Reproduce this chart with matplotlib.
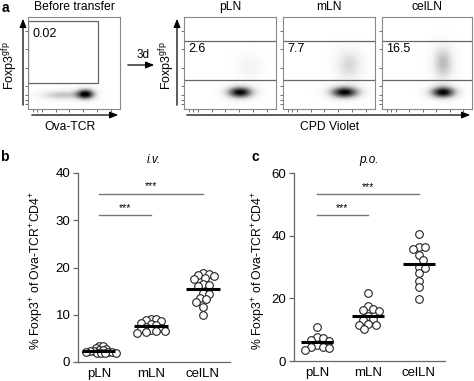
import numpy as np
import matplotlib
matplotlib.use("Agg")
import matplotlib.pyplot as plt

plt.rcParams['font.family'] = ['Liberation Sans', 'DejaVu Sans']
plt.rcParams['mathtext.fontset'] = 'custom'
plt.rcParams['mathtext.rm'] = 'Liberation Sans'
plt.rcParams['mathtext.it'] = 'Liberation Sans:italic'

# ---- data ----
groups = ["pLN", "mLN", "celLN"]
facs_titles = ["Before transfer", "pLN", "mLN", "celLN"]
facs_pct = ["0.02", "2.6", "7.7", "16.5"]

iv_pLN = [3.4, 3.3, 3.0, 2.8, 2.6, 2.5, 2.4, 2.3, 2.2, 2.2, 2.1, 2.0, 2.0, 1.9, 1.8]
iv_mLN = [9.1, 9.0, 8.9, 8.6, 8.3, 8.0, 7.8, 7.5, 7.2, 7.0, 6.8, 6.6, 6.5, 6.3, 6.2]
iv_celLN = [18.9, 18.7, 18.4, 18.2, 17.8, 17.5, 16.5, 16.2, 16.0, 14.6, 14.3, 13.6, 13.3, 12.8, 11.6, 10.0]

po_pLN = [10.7, 7.6, 7.2, 6.8, 6.5, 5.0, 4.5, 4.4, 4.3, 3.6]
po_mLN = [21.6, 17.6, 16.5, 16.3, 15.9, 14.4, 13.3, 13.1, 11.7, 11.5, 11.5, 10.2]
po_celLN = [40.4, 36.5, 36.5, 35.9, 33.8, 32.2, 30.1, 29.6, 28.0, 25.6, 23.5, 19.7]

# flow populations: (x centre, y centre, sd x, sd y, weight), in fraction of the plot box
pops = [
    [(0.62, 0.16, 0.07, 0.04, 1.0), (0.36, 0.15, 0.15, 0.035, 0.35)],
    [(0.61, 0.18, 0.10, 0.045, 1.0), (0.72, 0.46, 0.10, 0.10, 0.10)],
    [(0.67, 0.18, 0.11, 0.045, 1.0), (0.72, 0.48, 0.10, 0.12, 0.25)],
    [(0.68, 0.18, 0.10, 0.045, 1.0), (0.68, 0.50, 0.08, 0.13, 0.38)],
]

W, H = 474, 381
fig = plt.figure(figsize=(W / 100, H / 100), dpi=100)


def box(x0, y0, x1, y1):
    return [x0 / W, 1 - y1 / H, (x1 - x0) / W, (y1 - y0) / H]


def ftext(x, y, s, **kw):
    fig.text(x / W, 1 - y / H, s, **kw)


over = fig.add_axes([0, 0, 1, 1])
over.set_xlim(0, W)
over.set_ylim(H, 0)
over.axis("off")

# ---- panel a: flow plots ----
facs_boxes = [(28, 17, 120, 109), (184, 17, 276, 109), (283, 17, 375, 109), (382, 17, 472, 109)]
gx, gy = np.meshgrid(np.linspace(0, 1, 200), np.linspace(0, 1, 200))
for i, (x0, y0, x1, y1) in enumerate(facs_boxes):
    ax = fig.add_axes(box(x0, y0, x1, y1))
    dens = np.zeros_like(gx)
    for cx, cy, sx, sy, w in pops[i]:
        dens += w * np.exp(-((gx - cx) ** 2 / (2 * sx ** 2) + (gy - cy) ** 2 / (2 * sy ** 2)))
    ax.imshow(dens, extent=[0, 1, 0, 1], origin="lower", cmap="Greys", vmin=0, vmax=1.0,
              aspect="auto", interpolation="bilinear")
    ax.set_xlim(0, 1)
    ax.set_ylim(0, 1)
    for sp in ax.spines.values():
        sp.set_color("#888888")
        sp.set_linewidth(0.8)
    ax.set_xticks([0.05, 0.1, 0.15, 0.3, 0.45, 0.6, 0.75, 0.9])
    ax.set_yticks([0.05, 0.1, 0.15, 0.25, 0.45, 0.65, 0.85])
    ax.tick_params(length=2, width=0.6, color="#555555", direction="out",
                   labelbottom=False, labelleft=False)
    if i == 0:
        ax.add_patch(plt.Rectangle((0, 0.28), 0.76, 0.68, fill=False, ec="#666666", lw=0.9))
    else:
        ax.axhline(0.74, color="#666666", lw=0.9)
        ax.axhline(0.315, color="#666666", lw=0.9)
    ax.text(0.05, 0.82 if i == 0 else 0.655, facs_pct[i], transform=ax.transAxes,
            fontsize=9, va="center")
    ftext((x0 + x1) / 2, 7, facs_titles[i], ha="center", va="center", fontsize=8.7)

arrow_kw = dict(arrowstyle="-|>,head_length=0.5,head_width=0.2", color="black", lw=0.9)
over.annotate("", xy=(23, 16), xytext=(23, 108), arrowprops=arrow_kw)
over.annotate("", xy=(121, 115), xytext=(29, 115), arrowprops=arrow_kw)
over.annotate("", xy=(177, 16), xytext=(177, 108), arrowprops=arrow_kw)
over.annotate("", xy=(473, 115), xytext=(184, 115), arrowprops=arrow_kw)
over.annotate("", xy=(157, 65), xytext=(125, 65), arrowprops=arrow_kw)
ftext(143, 55, "3d", ha="center", va="center", fontsize=8.5)
ftext(10, 66, r"Foxp3$^{\rm gfp}$", rotation=90, ha="center", va="center", fontsize=9)
ftext(167, 66, r"Foxp3$^{\rm gfp}$", rotation=90, ha="center", va="center", fontsize=9)
ftext(70, 127, "Ova-TCR", ha="center", va="center", fontsize=8.7)
ftext(330, 127, "CPD Violet", ha="center", va="center", fontsize=8.7)
ftext(5, 1, "a", ha="center", va="top", fontsize=10, fontweight="bold")


# ---- panels b, c: dot plots ----
def swarm(vals, ppu, ppc, dmin=5.5, step=1.0):
    placed = []
    offs = []
    for v in vals:
        y = v * ppu
        k = 0
        found = None
        while found is None:
            for c in ([0.0] if k == 0 else [k * step, -k * step]):
                if all((c - px) ** 2 + (y - py) ** 2 >= dmin ** 2 for px, py in placed):
                    found = c
                    break
            k += 1
        placed.append((found, y))
        offs.append(found / ppc)
    return np.array(offs)


def dotpanel(rect, data, ymax, ystep, xlim, sig, title, letter, lpos, ylab_x, dmin):
    ax = fig.add_axes(box(*rect))
    ppu = (rect[3] - rect[1]) / ymax
    ppc = (rect[2] - rect[0]) / (xlim[1] - xlim[0])
    for j, vals in enumerate(data):
        off = swarm(vals, ppu, ppc, dmin=dmin[j])
        ax.plot(j + off, vals, "o", ms=5.5, mfc="white", mec="#222222", mew=0.8,
                clip_on=False, zorder=3)
        m = np.mean(vals)
        ax.plot([j - 0.32, j + 0.32], [m, m], color="black", lw=2.2, zorder=4,
                solid_capstyle="butt")
    for (a, b, yv) in sig:
        ax.plot([a, b], [yv, yv], color="#777777", lw=1.0)
        ax.text((a + b) / 2, yv + ymax * 0.012, "***", ha="center", va="bottom",
                fontsize=7.5)
    ax.set_xlim(*xlim)
    ax.set_ylim(0, ymax)
    ax.set_yticks(np.arange(0, ymax + 1, ystep))
    ax.set_xticks(range(len(groups)))
    ax.set_xticklabels(groups)
    for s in ["top", "right"]:
        ax.spines[s].set_visible(False)
    for s in ["left", "bottom"]:
        ax.spines[s].set_color("#666666")
        ax.spines[s].set_linewidth(0.9)
    ax.tick_params(axis="y", length=3.5, width=0.9, color="#666666", labelsize=9.5, pad=2)
    ax.tick_params(axis="x", length=0, labelsize=9.5, pad=4)
    ax.set_title(title, fontsize=8.5, style="italic", pad=7)
    ftext(lpos[0], lpos[1], letter, ha="center", va="center", fontsize=10, fontweight="bold")
    ftext(ylab_x, 270, r"% Foxp3$^{+}$ of Ova-TCR$^{+}$CD4$^{+}$",
          rotation=90, ha="center", va="center", fontsize=8.8)


dotpanel((78, 173, 230, 362), [iv_pLN, iv_mLN, iv_celLN], 40, 10, (-0.40, 2.52),
         [(0, 1, 31.1), (0, 2, 35.6)], "i.v.", "b", (4, 157), 37, [3.2, 5.0, 5.5])
dotpanel((294, 173, 445, 361), [po_pLN, po_mLN, po_celLN], 60, 20, (-0.45, 2.51),
         [(0, 1, 46.6), (0, 2, 53.3)], "p.o.", "c", (255, 157), 259, [6.0, 6.0, 6.0])

fig.savefig("out.png", dpi=100)
